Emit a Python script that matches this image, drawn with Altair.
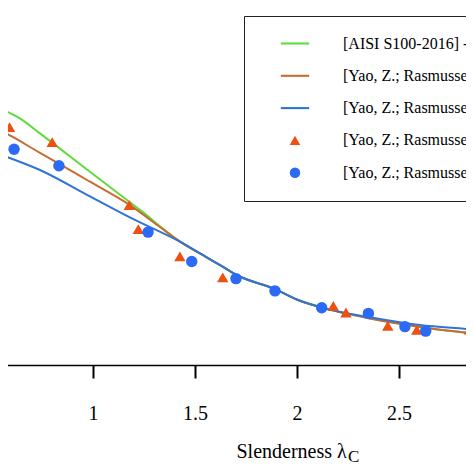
import altair as alt
import pandas as pd

SERIES = [
    "[AISI S100-2016] - DSM column curve",
    "[Yao, Z.; Rasmussen, K.J.R.] - design curve (orange)",
    "[Yao, Z.; Rasmussen, K.J.R.] - design curve (blue)",
    "[Yao, Z.; Rasmussen, K.J.R.] - numerical results (triangles)",
    "[Yao, Z.; Rasmussen, K.J.R.] - numerical results (circles)",
]
COLORS = ["#5ddc3c", "#c96a30", "#2f74d6", "#ee5010", "#2a6af4"]

# curves (slenderness, normalised strength)
green_x = [0.5, 0.544, 0.642, 0.740, 0.985, 1.230, 1.426, 1.557, 1.623, 1.704, 1.892, 2.015, 2.113, 2.358, 2.603, 2.848, 2.897]
green_y = [0.871, 0.856, 0.822, 0.772, 0.644, 0.517, 0.412, 0.359, 0.333, 0.300, 0.253, 0.214, 0.193, 0.155, 0.127, 0.106, 0.102]

orange_x = [0.5, 0.544, 0.740, 0.985, 1.181, 1.328, 1.426, 1.557, 1.623, 1.704, 1.892, 2.015, 2.113, 2.358, 2.603, 2.848, 2.897]
orange_y = [0.792, 0.781, 0.707, 0.611, 0.533, 0.460, 0.411, 0.359, 0.333, 0.300, 0.253, 0.214, 0.193, 0.155, 0.127, 0.106, 0.102]

blue_x = [0.5, 0.544, 0.740, 0.985, 1.198, 1.426, 1.557, 1.623, 1.704, 1.892, 2.015, 2.113, 2.358, 2.603, 2.848, 2.897]
blue_y = [0.713, 0.702, 0.650, 0.562, 0.486, 0.411, 0.359, 0.333, 0.300, 0.253, 0.214, 0.193, 0.159, 0.133, 0.119, 0.116]

# discrete results
tri_x = [0.591, 0.800, 1.178, 1.222, 1.426, 1.636, 2.178, 2.240, 2.445, 2.587, 2.845]
tri_y = [0.793, 0.743, 0.533, 0.453, 0.362, 0.292, 0.197, 0.175, 0.131, 0.117, 0.118]

circ_x = [0.613, 0.833, 1.270, 1.484, 1.701, 1.892, 2.121, 2.350, 2.529, 2.631]
circ_y = [0.719, 0.664, 0.443, 0.345, 0.288, 0.247, 0.191, 0.172, 0.128, 0.113]

X_TICKS = [1, 1.5, 2, 2.5]

FONT = "Liberation Serif"
LINE_PATH = "M-2.7,-0.2H2.7V0.2H-2.7Z"

x_scale = alt.Scale(domain=[0.5, 3.5], nice=False, zero=False)
y_scale = alt.Scale(domain=[0, 1.2], nice=False, zero=False)

x_axis = alt.Axis(
    values=X_TICKS, labelExpr="format(datum.value, '.1~f')", grid=False,
    tickSize=13, tickWidth=2, tickColor="black",
    domainColor="black", domainWidth=1.5,
    labelFont=FONT, labelFontSize=20, labelColor="black",
    labelBaseline="alphabetic", labelPadding=41, labelFlush=False,
    title="Slenderness λ", titleFont=FONT, titleFontSize=20,
    titleFontWeight="normal", titleColor="black",
    titleAlign="left", titleBaseline="alphabetic", titleX=245, titleY=92,
)


def line_layer(xs, ys, color):
    df = pd.DataFrame({"lam": xs, "chi": ys})
    return alt.Chart(df).mark_line(strokeWidth=2, color=color, interpolate="monotone").encode(
        x=alt.X("lam:Q", scale=x_scale, axis=x_axis),
        y=alt.Y("chi:Q", scale=y_scale, axis=None),
    )


pts = pd.DataFrame({
    "lam": tri_x + circ_x,
    "chi": tri_y + circ_y,
    "series": [SERIES[3]] * len(tri_x) + [SERIES[4]] * len(circ_x),
})

points = alt.Chart(pts).mark_point(filled=True, opacity=1, size=130).encode(
    x=alt.X("lam:Q", scale=x_scale, axis=x_axis),
    y=alt.Y("chi:Q", scale=y_scale, axis=None),
    color=alt.Color("series:N", scale=alt.Scale(domain=SERIES, range=COLORS),
                    legend=alt.Legend(
                        orient="none", legendX=253, legendY=11, title=None,
                        strokeColor="#222", fillColor="white", padding=19.5,
                        labelFont=FONT, labelFontSize=16, labelColor="black",
                        labelLimit=900, symbolSize=110, symbolOffset=23.5,
                        labelOffset=40, rowPadding=16.3, symbolStrokeWidth=0,
                    )),
    shape=alt.Shape("series:N", scale=alt.Scale(
        domain=SERIES,
        range=[LINE_PATH, LINE_PATH, LINE_PATH, "triangle-up", "circle"])),
)

sub = alt.Chart(pd.DataFrame({"t": ["C"]})).mark_text(
    font=FONT, fontSize=17, align="left", baseline="alphabetic", color="black"
).encode(text="t:N", x=alt.value(357), y=alt.value(457))

chart = alt.layer(
    line_layer(green_x, green_y, COLORS[0]),
    line_layer(orange_x, orange_y, COLORS[1]),
    line_layer(blue_x, blue_y, COLORS[2]),
    points,
    sub,
).properties(
    width=612, height=360,
    autosize=alt.AutoSizeParams(type="none"),
    padding={"left": -17, "top": -3, "right": -137, "bottom": 99},
).configure_view(stroke=None)

chart.save("out.html", embed_options={"renderer": "svg", "actions": False})
